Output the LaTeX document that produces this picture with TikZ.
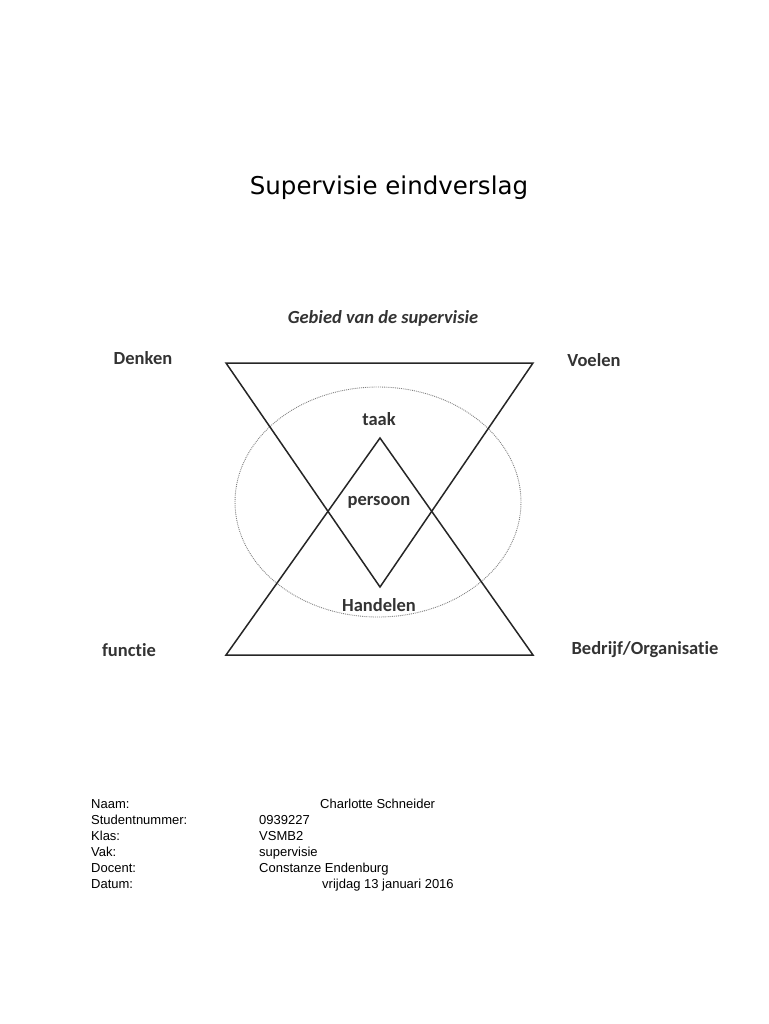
\documentclass[tikz,border=0pt]{standalone}
\usepackage{fontspec}
\setmainfont{DejaVu Sans}
\newfontfamily\calfont[Ligatures=NoCommon]{Carlito}
\newfontfamily\libfont{Liberation Sans}
\begin{document}
\begin{tikzpicture}[x=1pt,y=-1pt,
  lab/.style={font=\calfont\bfseries\fontsize{18.5}{22}\selectfont,text=black!80},
  info/.style={font=\libfont\fontsize{13}{15}\selectfont,anchor=base west,inner sep=0},
  ln/.style={draw=black!85,line width=1.5pt}]
\useasboundingbox (0,0) rectangle (768,1024);
\node (title) at (389,188) {\fontsize{24.5}{28}\selectfont Supervisie eindverslag};
\node[lab,font=\calfont\bfseries\itshape\fontsize{18.5}{22}\selectfont] (geb) at (383,318) {Gebied van de supervisie};
\draw[gray,densely dotted,line width=0.9pt] (378,502) ellipse [x radius=143, y radius=115];
\coordinate (tl) at (226,363); \coordinate (tr) at (533,363); \coordinate (tb) at (380,587);
\coordinate (bl) at (226,655); \coordinate (br) at (533,655); \coordinate (bt) at (380,438);
\draw[ln,line join=miter] (tl) -- (tr) -- (tb) -- cycle;
\draw[ln,line join=miter] (bl) -- (br) -- (bt) -- cycle;
\node[lab] (denken) at (143,358) {Denken};
\node[lab] (voelen) at (594,360) {Voelen};
\node[lab] (functie) at (129,650) {functie};
\node[lab] (bedrijf) at (645,650) {Bedrijf/Organisatie};
\node[lab] (taak) at (379,419) {taak};
\node[lab,fill=white,inner sep=1pt] (persoon) at (379,502) {persoon};
\node[lab] (handelen) at (379,605) {Handelen};
\foreach \y/\a/\b/\bx in {808/Naam:/Charlotte Schneider/320,
  824/Studentnummer:/0939227/259, 840/Klas:/VSMB2/259, 856/Vak:/supervisie/259,
  872/Docent:/Constanze Endenburg/259, 888/Datum:/vrijdag 13 januari 2016/322}{
  \node[info] at (91,\y) {\a};
  \node[info] at (\bx,\y) {\b};
}
\end{tikzpicture}
\end{document}
